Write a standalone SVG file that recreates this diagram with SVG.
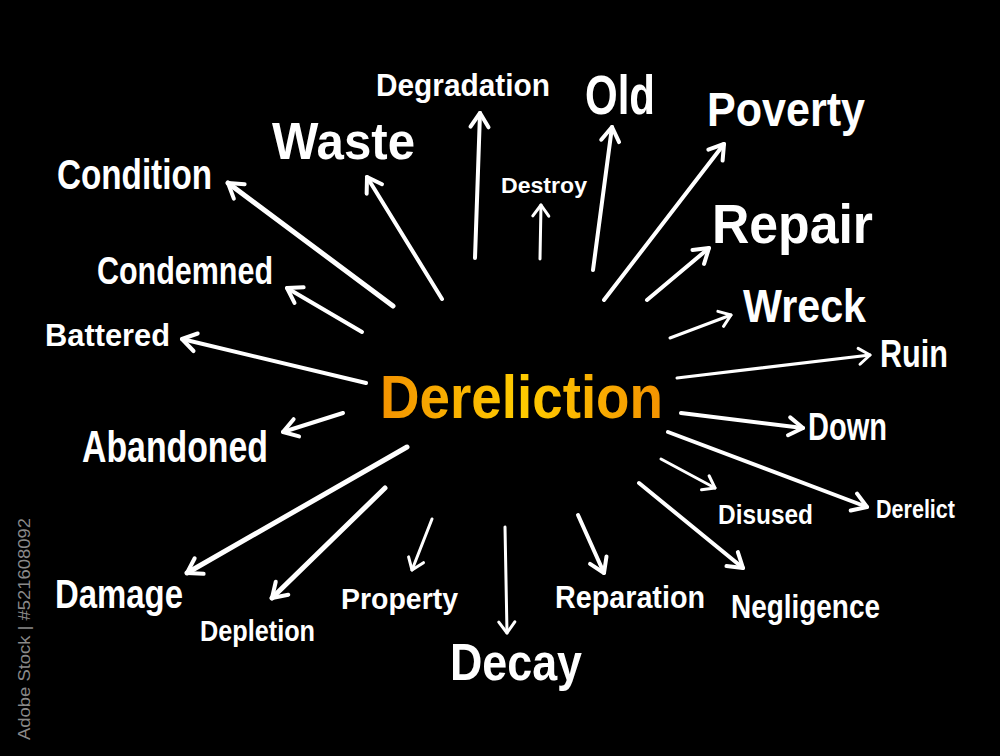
<svg xmlns="http://www.w3.org/2000/svg" width="1000" height="756" viewBox="0 0 1000 756">
<defs>
<style>
.w{fill:#fff;font-family:"Liberation Sans Narrow","Liberation Sans",Arial,sans-serif;font-weight:bold}
.a{stroke:#fff;stroke-width:4;fill:none;stroke-linecap:round;marker-end:url(#h)}
.t{stroke-width:3;marker-end:url(#hs)}
</style>
<marker id="h" markerUnits="userSpaceOnUse" orient="auto" markerWidth="30" markerHeight="30" refX="0" refY="0" viewBox="-20 -15 30 30" overflow="visible">
<path d="M-14,-9 L0,0 L-14,9" fill="none" stroke="#fff" stroke-width="4" stroke-linecap="round" stroke-linejoin="round"/>
</marker>
<marker id="hs" markerUnits="userSpaceOnUse" orient="auto" markerWidth="30" markerHeight="30" refX="0" refY="0" viewBox="-20 -15 30 30" overflow="visible">
<path d="M-11,-8 L0,0 L-11,8" fill="none" stroke="#fff" stroke-width="3" stroke-linecap="round" stroke-linejoin="round"/>
</marker>
<linearGradient id="g" x1="380" y1="0" x2="663" y2="0" gradientUnits="userSpaceOnUse">
<stop offset="0" stop-color="#f39200"/>
<stop offset="0.5" stop-color="#ffcc00"/>
<stop offset="1" stop-color="#f39200"/>
</linearGradient>
</defs>
<rect width="1000" height="756" fill="#000"/>
<g id="connectors">
<line class="a" x1="393" y1="306" x2="228" y2="183" style="stroke-width:5"/>
<line class="a" x1="442" y1="299" x2="367" y2="177"/>
<line class="a" x1="475" y1="258" x2="480" y2="113"/>
<line class="a" x1="362" y1="332" x2="287" y2="288"/>
<line class="a" x1="366" y1="383" x2="182" y2="339"/>
<line class="a" x1="343" y1="413" x2="283" y2="432"/>
<line class="a" x1="407" y1="447" x2="187" y2="573" style="stroke-width:5"/>
<line class="a" x1="385" y1="488" x2="272" y2="598" style="stroke-width:5"/>
<line class="a t" x1="432" y1="519" x2="412" y2="570"/>
<line class="a t" x1="505" y1="527" x2="507" y2="633"/>
<line class="a" x1="578" y1="515" x2="604" y2="573"/>
<line class="a" x1="639" y1="483" x2="743" y2="568"/>
<line class="a t" x1="661" y1="459" x2="715" y2="488"/>
<line class="a" x1="668" y1="432" x2="867" y2="507"/>
<line class="a" x1="681" y1="413" x2="803" y2="428"/>
<line class="a t" x1="677" y1="378" x2="870" y2="355"/>
<line class="a t" x1="670" y1="338" x2="731" y2="315"/>
<line class="a" x1="647" y1="300" x2="709" y2="248"/>
<line class="a" x1="604" y1="300" x2="724" y2="144"/>
<line class="a" x1="593" y1="270" x2="612" y2="127"/>
<line class="a t" x1="540" y1="259" x2="541" y2="205"/>
</g>
<g id="center"><text x="380" y="418" font-size="62" textLength="283" lengthAdjust="spacingAndGlyphs" style="fill:url(#g);font-family:'Liberation Sans Narrow','Liberation Sans',sans-serif;font-weight:bold">Dereliction</text></g>
<g id="n-condition"><text class="w" x="57" y="189" font-size="42" textLength="155" lengthAdjust="spacingAndGlyphs">Condition</text></g>
<g id="n-waste"><text class="w" x="272" y="159" font-size="52" textLength="143" lengthAdjust="spacingAndGlyphs">Waste</text></g>
<g id="n-degradation"><text class="w" x="376" y="96" font-size="31" textLength="174" lengthAdjust="spacingAndGlyphs">Degradation</text></g>
<g id="n-old"><text class="w" x="585" y="114" font-size="56" textLength="70" lengthAdjust="spacingAndGlyphs">Old</text></g>
<g id="n-poverty"><text class="w" x="707" y="126" font-size="48" textLength="158" lengthAdjust="spacingAndGlyphs">Poverty</text></g>
<g id="n-destroy"><text class="w" x="501" y="193" font-size="22" textLength="86" lengthAdjust="spacingAndGlyphs">Destroy</text></g>
<g id="n-repair"><text class="w" x="712" y="243" font-size="56" textLength="161" lengthAdjust="spacingAndGlyphs">Repair</text></g>
<g id="n-wreck"><text class="w" x="743" y="322" font-size="46" textLength="123" lengthAdjust="spacingAndGlyphs">Wreck</text></g>
<g id="n-ruin"><text class="w" x="880" y="367" font-size="38" textLength="68" lengthAdjust="spacingAndGlyphs">Ruin</text></g>
<g id="n-condemned"><text class="w" x="97" y="284" font-size="38" textLength="176" lengthAdjust="spacingAndGlyphs">Condemned</text></g>
<g id="n-battered"><text class="w" x="45" y="346" font-size="32" textLength="125" lengthAdjust="spacingAndGlyphs">Battered</text></g>
<g id="n-abandoned"><text class="w" x="82" y="462" font-size="44" textLength="186" lengthAdjust="spacingAndGlyphs">Abandoned</text></g>
<g id="n-damage"><text class="w" x="55" y="608" font-size="40" textLength="128" lengthAdjust="spacingAndGlyphs">Damage</text></g>
<g id="n-depletion"><text class="w" x="200" y="641" font-size="30" textLength="115" lengthAdjust="spacingAndGlyphs">Depletion</text></g>
<g id="n-property"><text class="w" x="341" y="609" font-size="30" textLength="117" lengthAdjust="spacingAndGlyphs">Property</text></g>
<g id="n-decay"><text class="w" x="450" y="680" font-size="52" textLength="132" lengthAdjust="spacingAndGlyphs">Decay</text></g>
<g id="n-reparation"><text class="w" x="555" y="608" font-size="31" textLength="150" lengthAdjust="spacingAndGlyphs">Reparation</text></g>
<g id="n-negligence"><text class="w" x="731" y="618" font-size="33" textLength="149" lengthAdjust="spacingAndGlyphs">Negligence</text></g>
<g id="n-disused"><text class="w" x="718" y="524" font-size="27" textLength="95" lengthAdjust="spacingAndGlyphs">Disused</text></g>
<g id="n-derelict"><text class="w" x="876" y="518" font-size="25" textLength="79" lengthAdjust="spacingAndGlyphs">Derelict</text></g>
<g id="n-down"><text class="w" x="808" y="440" font-size="38" textLength="79" lengthAdjust="spacingAndGlyphs">Down</text></g>
<g id="credit"><text transform="translate(30,740) rotate(-90)" font-size="16" fill="#8a8a8a" textLength="222" lengthAdjust="spacingAndGlyphs" style="font-family:'Liberation Sans',Arial,sans-serif">Adobe Stock | #521608092</text></g>
</svg>
